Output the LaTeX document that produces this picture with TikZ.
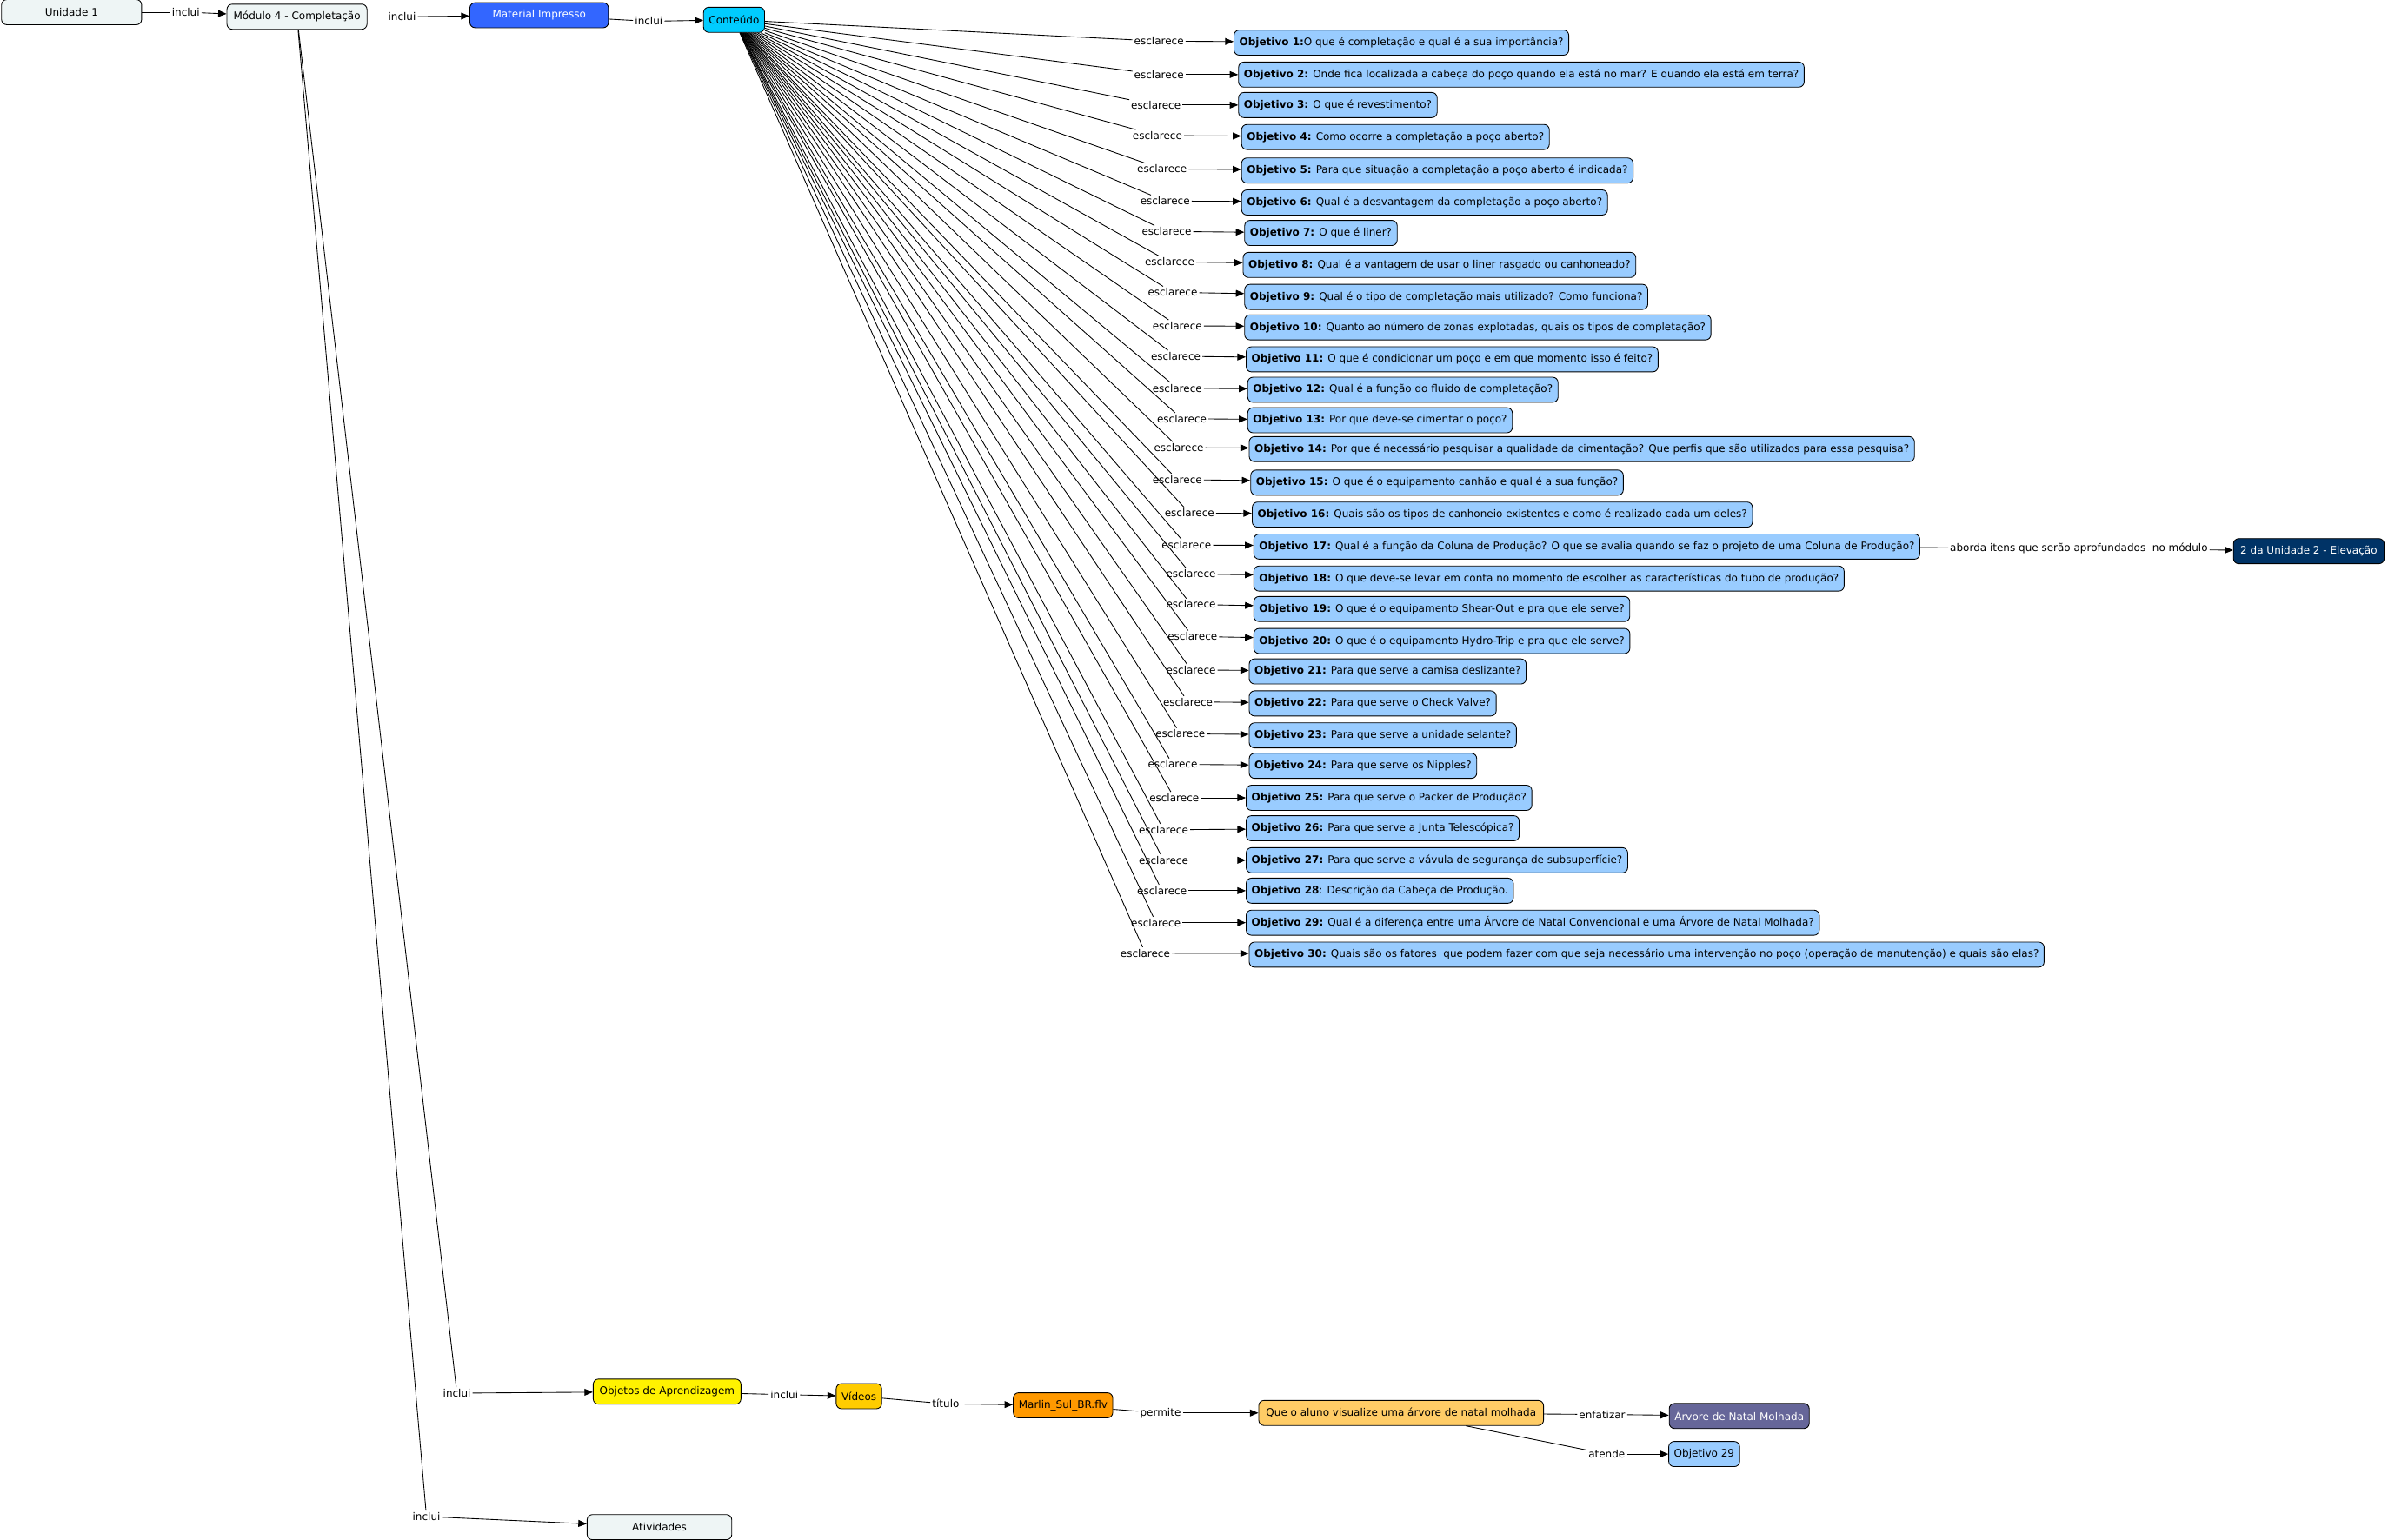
\documentclass[tikz,border=0pt]{standalone}
\usepackage{fontspec}
\setmainfont{DejaVu Sans}
\usetikzlibrary{arrows.meta}

\definecolor{cmapgray}{HTML}{EEF5F5}
\definecolor{cmapblue}{HTML}{3366FF}
\definecolor{cmapcyan}{HTML}{00CCFF}
\definecolor{objblue}{HTML}{99CCFF}
\definecolor{cmapnavy}{HTML}{003366}
\definecolor{cmapgold}{HTML}{FFCC00}
\definecolor{cmaporange}{HTML}{FF9900}
\definecolor{cmappeach}{HTML}{FFCC66}
\definecolor{cmaplilac}{HTML}{666699}

\begin{document}
\begin{tikzpicture}[x=1pt,y=-1pt,
    font=\fontsize{6.85}{8}\selectfont,
    concept/.style={draw,rounded corners=3.5pt,line width=0.5pt,
      inner xsep=3.5pt,inner ysep=2pt,minimum height=16.5pt},
    link/.style={inner sep=1pt},
    >={Triangle[length=5.5pt,width=4.5pt]},
    line width=0.5pt]
      \useasboundingbox (0,0) rectangle (1568,1011);

      %%%%%%%%%%%%%%%%%%%%%%%%%%%%%%%%%%%%%%%%%%%%%%%%%%%%%%%%%%%%%%%%%%%%%%%%%%%
      %%%%  top row
      \node[concept,fill=cmapgray,minimum width=92pt] (unid) at (47,8) {Unidade 1};
      \node[concept,fill=cmapgray,minimum width=92pt] (mod) at (195,11) {Módulo 4 - Completação};
      \node[concept,fill=cmapblue,text=white,minimum width=91pt] (mat) at (354,10) {Material Impresso};
      \node[concept,fill=cmapcyan] (cont) at (482,13) {Conteúdo};

      \node[link] (inc1) at (122,8) {inclui};
      \node[link] (inc2) at (264,11) {inclui};
      \node[link] (inc3) at (426,14) {inclui};
      \draw (unid) -- (inc1);
      \draw[->] (inc1) -- (mod);
      \draw (mod) -- (inc2);
      \draw[->] (inc2) -- (mat);
      \draw (mat) -- (inc3);
      \draw[->] (inc3) -- (cont);

      %%%%%%%%%%%%%%%%%%%%%%%%%%%%%%%%%%%%%%%%%%%%%%%%%%%%%%%%%%%%%%%%%%%%%%%%%%%
      %%%%  objetivos
      \foreach \i/\ox/\oy/\ex/\ey/\txt in
        {1/810/28/761/27/{\textbf{Objetivo 1:}O que é completação e qual é a sua importância?},
         2/813/49/761/49/{\textbf{Objetivo 2:} Onde fica localizada a cabeça do poço quando ela está no mar? E quando ela está em terra?},
         3/813/69/759/69/{\textbf{Objetivo 3:} O que é revestimento?},
         4/815/90/760/89/{\textbf{Objetivo 4:} Como ocorre a completação a poço aberto?},
         5/815/112/763/111/{\textbf{Objetivo 5:} Para que situação a completação a poço aberto é indicada?},
         6/815/133/765/132/{\textbf{Objetivo 6:} Qual é a desvantagem da completação a poço aberto?},
         7/817/153/766/152/{\textbf{Objetivo 7:} O que é liner?},
         8/816/174/768/172/{\textbf{Objetivo 8:} Qual é a vantagem de usar o liner rasgado ou canhoneado?},
         9/817/195/770/192/{\textbf{Objetivo 9:} Qual é o tipo de completação mais utilizado? Como funciona?},
         10/817/215/773/214/{\textbf{Objetivo 10:} Quanto ao número de zonas explotadas, quais os tipos de completação?},
         11/818/236/772/234/{\textbf{Objetivo 11:} O que é condicionar um poço e em que momento isso é feito?},
         12/819/256/773/255/{\textbf{Objetivo 12:} Qual é a função do fluido de completação?},
         13/819/276/776/275/{\textbf{Objetivo 13:} Por que deve-se cimentar o poço?},
         14/820/295/774/294/{\textbf{Objetivo 14:} Por que é necessário pesquisar a qualidade da cimentação? Que perfis que são utilizados para essa pesquisa?},
         15/821/317/773/315/{\textbf{Objetivo 15:} O que é o equipamento canhão e qual é a sua função?},
         16/822/338/781/337/{\textbf{Objetivo 16:} Quais são os tipos de canhoneio existentes e como é realizado cada um deles?},
         17/823/359/779/358/{\textbf{Objetivo 17:} Qual é a função da Coluna de Produção? O que se avalia quando se faz o projeto de uma Coluna de Produção?},
         18/823/380/782/377/{\textbf{Objetivo 18:} O que deve-se levar em conta no momento de escolher as características do tubo de produção?},
         19/823/400/782/397/{\textbf{Objetivo 19:} O que é o equipamento Shear-Out e pra que ele serve?},
         20/823/421/783/418/{\textbf{Objetivo 20:} O que é o equipamento Hydro-Trip e pra que ele serve?},
         21/820/441/782/440/{\textbf{Objetivo 21:} Para que serve a camisa deslizante?},
         22/820/462/780/461/{\textbf{Objetivo 22:} Para que serve o Check Valve?},
         23/820/483/775/482/{\textbf{Objetivo 23:} Para que serve a unidade selante?},
         24/820/503/770/502/{\textbf{Objetivo 24:} Para que serve os Nipples?},
         25/818/524/771/524/{\textbf{Objetivo 25:} Para que serve o Packer de Produção?},
         26/818/544/764/545/{\textbf{Objetivo 26:} Para que serve a Junta Telescópica?},
         27/818/565/764/565/{\textbf{Objetivo 27:} Para que serve a vávula de segurança de subsuperfície?},
         28/818/585/763/585/{\textbf{Objetivo 28}: Descrição da Cabeça de Produção.},
         29/818/606/759/606/{\textbf{Objetivo 29:} Qual é a diferença entre uma Árvore de Natal Convencional e uma Árvore de Natal Molhada?},
         30/820/627/752/626/{\textbf{Objetivo 30:} Quais são os fatores\ \ que podem fazer com que seja necessário uma intervenção no poço (operação de manutenção) e quais são elas?}}
       {\node[concept,fill=objblue,anchor=west] (obj\i) at (\ox,\oy) {\txt};
        \node[link] (escl\i) at (\ex,\ey) {esclarece};
        \draw (cont) -- (escl\i);
        \draw[->] (escl\i) -- (obj\i);
       };

      % objetivo 17 -> modulo seguinte
      \node[concept,fill=cmapnavy,text=white,minimum width=99pt] (elev) at (1516,362) {2 da Unidade 2 - Elevação};
      \node[link] (abor) at (1365,360) {aborda itens que serão aprofundados\ \ no módulo};
      \draw (obj17) -- (abor);
      \draw[->] (abor) -- (elev);

      %%%%%%%%%%%%%%%%%%%%%%%%%%%%%%%%%%%%%%%%%%%%%%%%%%%%%%%%%%%%%%%%%%%%%%%%%%%
      %%%%  objetos de aprendizagem e atividades
      \node[concept,fill=yellow,minimum width=97pt] (obap) at (438,914) {Objetos de Aprendizagem};
      \node[concept,fill=cmapgray,minimum width=95pt] (ativ) at (433,1003) {Atividades};
      \node[concept,fill=cmapgold] (vid) at (564,917) {Vídeos};
      \node[concept,fill=cmaporange] (marl) at (698,923) {Marlin\_Sul\_BR.flv};
      \node[concept,fill=cmappeach,minimum width=187pt] (aluno) at (920,928) {Que o aluno visualize uma árvore de natal molhada};
      \node[concept,fill=cmaplilac,text=white] (arv) at (1142,930) {Árvore de Natal Molhada};
      \node[concept,fill=objblue] (ob29) at (1119,955) {Objetivo 29};

      \node[link] (inc4) at (300,915) {inclui};
      \node[link] (inc5) at (280,996) {inclui};
      \node[link] (inc6) at (515,916) {inclui};
      \node[link] (tit) at (621,922) {título};
      \node[link] (perm) at (762,928) {permite};
      \node[link] (enf) at (1052,929) {enfatizar};
      \node[link] (aten) at (1055,955) {atende};

      \draw (mod) -- (inc4);
      \draw[->] (inc4) -- (obap);
      \draw (mod) -- (inc5);
      \draw[->] (inc5) -- (ativ);
      \draw (obap) -- (inc6);
      \draw[->] (inc6) -- (vid);
      \draw (vid) -- (tit);
      \draw[->] (tit) -- (marl);
      \draw (marl) -- (perm);
      \draw[->] (perm) -- (aluno);
      \draw (aluno) -- (enf);
      \draw[->] (enf) -- (arv);
      \draw (aluno) -- (aten);
      \draw[->] (aten) -- (ob29);
    \end{tikzpicture}
\end{document}
